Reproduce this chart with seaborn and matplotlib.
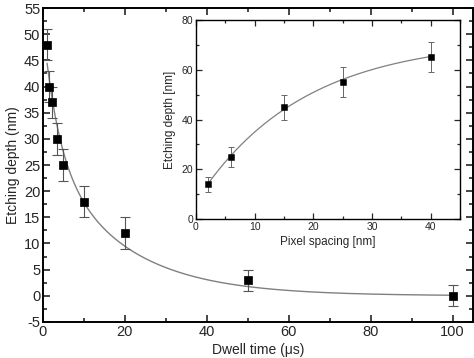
import numpy as np
import pandas as pd
import seaborn as sns
import matplotlib.pyplot as plt
from matplotlib.ticker import MultipleLocator

# main data: etching depth vs dwell time
dwell = [1, 1.5, 2.2, 3.5, 5, 10, 20, 50, 100]
depth = [48, 40, 37, 30, 25, 18, 12, 3, 0]
depth_err = [3, 3, 3, 3, 3, 3, 3, 2, 2]

# inset data: etching depth vs pixel spacing
spacing = [2, 6, 15, 25, 40]
depth_in = [14, 25, 45, 55, 65]
depth_in_err = [3, 4, 5, 6, 6]

# fit parameters
A1, t1, A2, t2 = 23.0, 3.65, 28.5, 18.0
y0_in, A_in, t_in = 72.4, 65.2, 18.0

sns.set_theme(style="ticks")
plt.rcParams['font.family'] = ['Liberation Sans', 'DejaVu Sans']
plt.rcParams['axes.unicode_minus'] = False

fig = plt.figure(figsize=(4.74, 3.58), dpi=100)
ax = fig.add_axes([0.0907, 0.1006, 0.9072, 0.877])
ins = fig.add_axes([0.4135, 0.388, 0.557, 0.556])

# # # main plot # # #
xf = np.linspace(1, 100, 300)
fit = pd.DataFrame({'x': xf, 'y': A1 * np.exp(-xf / t1) + A2 * np.exp(-xf / t2)})
sns.lineplot(data=fit, x='x', y='y', ax=ax, color='#808080', lw=1.0)
ax.errorbar(dwell, depth, yerr=depth_err, fmt='none', ecolor='#555555',
            elinewidth=0.8, capsize=3.5, capthick=0.8)
sns.scatterplot(x=dwell, y=depth, ax=ax, marker='s', s=40, color='black',
                edgecolor='black', zorder=5)
ax.set_xlim(0, 105)
ax.set_ylim(-5, 55)
ax.xaxis.set_major_locator(MultipleLocator(20))
ax.xaxis.set_minor_locator(MultipleLocator(10))
ax.yaxis.set_major_locator(MultipleLocator(5))
ax.yaxis.set_minor_locator(MultipleLocator(2.5))
ax.set_xlabel('Dwell time (\u03bcs)', fontsize=10, labelpad=3)
ax.set_ylabel('Etching depth (nm)', fontsize=10, labelpad=3)
ax.tick_params(which='both', direction='in', top=True, right=True,
               labelsize=10.5, pad=2, width=1.2)
ax.tick_params(which='major', length=5)
ax.tick_params(which='minor', length=3)
for s in ax.spines.values():
    s.set_linewidth(1.4)
    s.set_color('black')

# # # inset # # #
xi = np.linspace(2, 40, 200)
fit_in = pd.DataFrame({'x': xi, 'y': y0_in - A_in * np.exp(-xi / t_in)})
sns.lineplot(data=fit_in, x='x', y='y', ax=ins, color='#808080', lw=0.9)
ins.errorbar(spacing, depth_in, yerr=depth_in_err, fmt='none', ecolor='#666666',
             elinewidth=0.7, capsize=2.5, capthick=0.7)
sns.scatterplot(x=spacing, y=depth_in, ax=ins, marker='s', s=22, color='black',
                edgecolor='black', zorder=5)
ins.set_xlim(0, 45)
ins.set_ylim(0, 80)
ins.xaxis.set_major_locator(MultipleLocator(10))
ins.xaxis.set_minor_locator(MultipleLocator(5))
ins.yaxis.set_major_locator(MultipleLocator(20))
ins.yaxis.set_minor_locator(MultipleLocator(10))
ins.set_xlabel('Pixel spacing [nm]', fontsize=8.5, labelpad=3)
ins.set_ylabel('Etching depth [nm]', fontsize=8.5, labelpad=4)
ins.tick_params(which='both', direction='in', top=True, right=True,
                labelsize=7.5, pad=2, width=0.9)
ins.tick_params(which='major', length=4)
ins.tick_params(which='minor', length=2.5)
for s in ins.spines.values():
    s.set_linewidth(1.0)
    s.set_color('black')

fig.savefig('out.png', dpi=100)
